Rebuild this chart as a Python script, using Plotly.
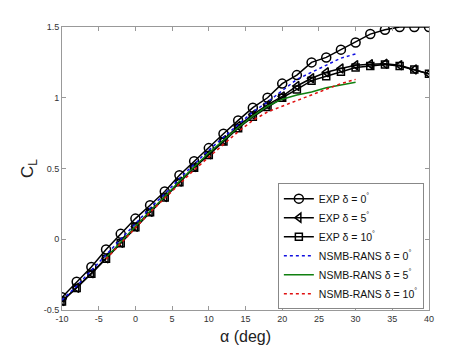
import plotly.graph_objects as go

alpha_exp = [-10, -8, -6, -4, -2, 0, 2, 4, 6, 8, 10, 12, 14, 16, 18, 20, 22, 24, 26, 28, 30, 32, 34, 36, 38, 40]
cl_exp_d0 = [-0.41, -0.30, -0.196, -0.073, 0.038, 0.146, 0.24, 0.337, 0.453, 0.552, 0.644, 0.746, 0.84, 0.93, 1.00, 1.10, 1.16, 1.25, 1.285, 1.34, 1.39, 1.45, 1.48, 1.50, 1.50, 1.50]
cl_exp_d5 = [-0.436, -0.343, -0.24, -0.135, -0.025, 0.088, 0.194, 0.298, 0.407, 0.51, 0.60, 0.70, 0.80, 0.88, 0.95, 1.01, 1.083, 1.138, 1.18, 1.207, 1.23, 1.237, 1.24, 1.23, 1.20, 1.168]
cl_exp_d10 = [-0.44, -0.345, -0.243, -0.138, -0.028, 0.085, 0.19, 0.295, 0.403, 0.505, 0.595, 0.69, 0.785, 0.865, 0.935, 1.00, 1.059, 1.121, 1.152, 1.184, 1.214, 1.225, 1.235, 1.225, 1.20, 1.17]

alpha_rans0 = [-10, -8, -6, -4, -2, 0, 2, 4, 6, 8, 10, 12, 14, 16, 18, 20, 22, 24, 26, 28, 30]
cl_rans_d0 = [-0.43, -0.33, -0.22, -0.11, 0.0, 0.11, 0.22, 0.32, 0.43, 0.53, 0.63, 0.72, 0.81, 0.90, 0.97, 1.05, 1.13, 1.18, 1.23, 1.28, 1.31]

alpha_rans = [-4, -2, 0, 2, 4, 6, 8, 10, 12, 14, 16, 18, 20, 22, 24, 26, 28, 30]
cl_rans_d5 = [-0.13, -0.02, 0.09, 0.20, 0.30, 0.41, 0.51, 0.61, 0.70, 0.79, 0.87, 0.94, 0.99, 1.02, 1.04, 1.07, 1.09, 1.11]
cl_rans_d10 = [-0.14, -0.03, 0.08, 0.19, 0.29, 0.39, 0.49, 0.58, 0.67, 0.76, 0.84, 0.90, 0.94, 0.98, 1.02, 1.06, 1.10, 1.13]

x_ticks = [-10, -5, 0, 5, 10, 15, 20, 25, 30, 35, 40]
y_ticks = [-0.5, 0, 0.5, 1, 1.5]
y_tick_text = ["-0.5", "0", "0.5", "1", "1.5"]

FONT = "Liberation Sans, Arial, sans-serif"

fig = go.Figure()

exp_style = dict(mode="lines+markers", line=dict(color="black", width=1.5))
fig.add_trace(go.Scatter(x=alpha_exp, y=cl_exp_d0, name="EXP δ = 0<sup>°</sup>",
                         marker=dict(symbol="circle-open", size=9, color="black", line=dict(width=1.5)), **exp_style))
fig.add_trace(go.Scatter(x=alpha_exp, y=cl_exp_d5, name="EXP δ = 5<sup>°</sup>",
                         marker=dict(symbol="triangle-left-open", size=8, color="black", line=dict(width=1.5)), **exp_style))
fig.add_trace(go.Scatter(x=alpha_exp, y=cl_exp_d10, name="EXP δ = 10<sup>°</sup>",
                         marker=dict(symbol="square-open", size=7, color="black", line=dict(width=1.5)), **exp_style))
fig.add_trace(go.Scatter(x=alpha_rans0, y=cl_rans_d0, name="NSMB-RANS δ = 0<sup>°</sup>", mode="lines",
                         line=dict(color="#1010e0", width=1.5, dash="dot")))
fig.add_trace(go.Scatter(x=alpha_rans, y=cl_rans_d5, name="NSMB-RANS δ = 5<sup>°</sup>", mode="lines",
                         line=dict(color="#108010", width=1.5)))
fig.add_trace(go.Scatter(x=alpha_rans, y=cl_rans_d10, name="NSMB-RANS δ = 10<sup>°</sup>", mode="lines",
                         line=dict(color="#e01010", width=1.5, dash="dot")))

axis_common = dict(showgrid=False, zeroline=False, showline=True, linecolor="#999999", linewidth=1,
                   mirror="allticks", ticks="inside", ticklen=4, tickcolor="#999999",
                   tickfont=dict(family=FONT, size=9, color="#333333"))

fig.update_xaxes(range=[-10, 40], tickvals=x_ticks, ticktext=[str(t) for t in x_ticks],
                 title=dict(text="α (deg)", font=dict(family=FONT, size=16, color="#222222"), standoff=8),
                 **axis_common)
fig.update_yaxes(range=[-0.5, 1.5], tickvals=y_ticks, ticktext=y_tick_text,
                 title=dict(text="C<sub>L</sub>", font=dict(family=FONT, size=17, color="#222222"), standoff=5),
                 **axis_common)

fig.update_layout(
    width=466, height=347,
    margin=dict(l=54, r=45, t=19, b=39),
    plot_bgcolor="white", paper_bgcolor="white",
    font=dict(family=FONT, color="#111111"),
    legend=dict(x=0.986, y=0.003, xanchor="right", yanchor="bottom",
                bgcolor="white", bordercolor="#888888", borderwidth=1,
                font=dict(size=10.5, color="#111111"), tracegroupgap=0, itemwidth=30),
    showlegend=True,
)

fig.write_html("out.html")
